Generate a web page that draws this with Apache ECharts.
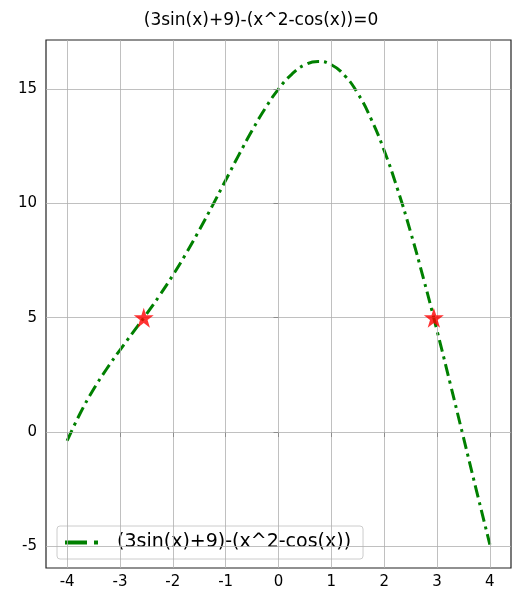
<!DOCTYPE html>
<html><head><meta charset="utf-8">
<script src="https://cdn.jsdelivr.net/npm/echarts@6/dist/echarts.min.js"></script>
<style>html,body{margin:0;padding:0;background:#fff}#c{width:522px;height:600px}</style>
</head><body><div id="c"></div>
<script>
const xs = [-4,-3.75,-3.5,-3.25,-3,-2.75,-2.5,-2.25,-2,-1.75,-1.5,-1.25,-1,-0.75,-0.5,-0.25,0,0.25,0.5,0.75,1,1.25,1.5,1.75,2,2.25,2.5,2.75,3,3.25,3.5,3.75,4];
const ys = [-0.383,0.832,1.866,2.768,3.587,4.368,5.153,5.975,6.856,7.807,8.828,9.906,11.016,12.124,13.189,14.164,15.0,15.649,16.066,16.214,16.065,15.600,14.813,13.711,12.312,10.644,8.744,6.658,4.433,2.119,-0.239,-2.598,-4.924];
const starX = [-2.55, 2.94];
const starY = [5, 5];
const xTicks = [-4,-3,-2,-1,0,1,2,3,4];
const yTicks = [-5,0,5,10,15];
const titleText = '(3sin(x)+9)-(x^2-cos(x))=0';
const seriesName = '(3sin(x)+9)-(x^2-cos(x))';

const font = 'DejaVu Sans';
const chart = echarts.init(document.getElementById('c'));
const gridLines = xTicks.map(v => ({xAxis: v})).concat(yTicks.map(v => ({yAxis: v})));
chart.setOption({
  animation: false,
  title: {text: titleText, left: 'center', top: 7, textStyle: {fontFamily: font, fontSize: 17, fontWeight: 'normal', color: '#000'}},
  grid: {left: 46, right: 11, top: 40, bottom: 32, show: true, borderColor: '#222', borderWidth: 1.2},
  legend: {
    left: 57, bottom: 41, orient: 'horizontal',
    data: [{name: seriesName, icon: 'path://M0,0h22v4H0z M29,0h4v4h-4z'}],
    itemWidth: 33, itemHeight: 4, itemGap: 10,
    textStyle: {fontFamily: font, fontSize: 19, color: '#000', padding: [0, 0, 0, 14]},
    backgroundColor: 'rgba(255,255,255,0.8)', borderColor: '#ccc', borderWidth: 1, borderRadius: 3,
    padding: [7, 12, 7, 8]
  },
  xAxis: {
    type: 'value', min: -4.4, max: 4.4,
    axisLine: {show: false},
    axisTick: {show: true, customValues: xTicks, length: 5, lineStyle: {color: '#000'}},
    axisLabel: {customValues: xTicks, fontFamily: font, fontSize: 15, color: '#000', margin: 7},
    splitLine: {show: false}
  },
  yAxis: {
    type: 'value', min: -5.95, max: 17.15,
    axisLine: {show: false},
    axisTick: {show: true, customValues: yTicks, length: 5, lineStyle: {color: '#000'}},
    axisLabel: {customValues: yTicks, fontFamily: font, fontSize: 15, color: '#000', margin: 9},
    splitLine: {show: false}
  },
  series: [
    {
      type: 'line', name: '__grid', data: [], silent: true,
      markLine: {silent: true, symbol: 'none', label: {show: false}, lineStyle: {color: '#b0b0b0', width: 0.8, type: 'solid'}, data: gridLines}
    },
    {
      type: 'line', name: seriesName, smooth: true, showSymbol: false,
      data: xs.map((x, i) => [x, ys[i]]),
      lineStyle: {color: '#008000', width: 3, type: [12, 5, 3, 5]},
      itemStyle: {color: '#008000'}, z: 3
    },
    {
      type: 'scatter', name: '__stars', symbol: 'path://M50,0 L61.8,35.4 L100,35.4 L69.1,57.3 L80.9,93.3 L50,71.4 L19.1,93.3 L30.9,57.3 L0,35.4 L38.2,35.4 Z',
      symbolSize: 20, data: starX.map((x, i) => [x, starY[i]]),
      itemStyle: {color: '#ff0000'}, z: 5
    }
  ]
});
</script></body></html>
